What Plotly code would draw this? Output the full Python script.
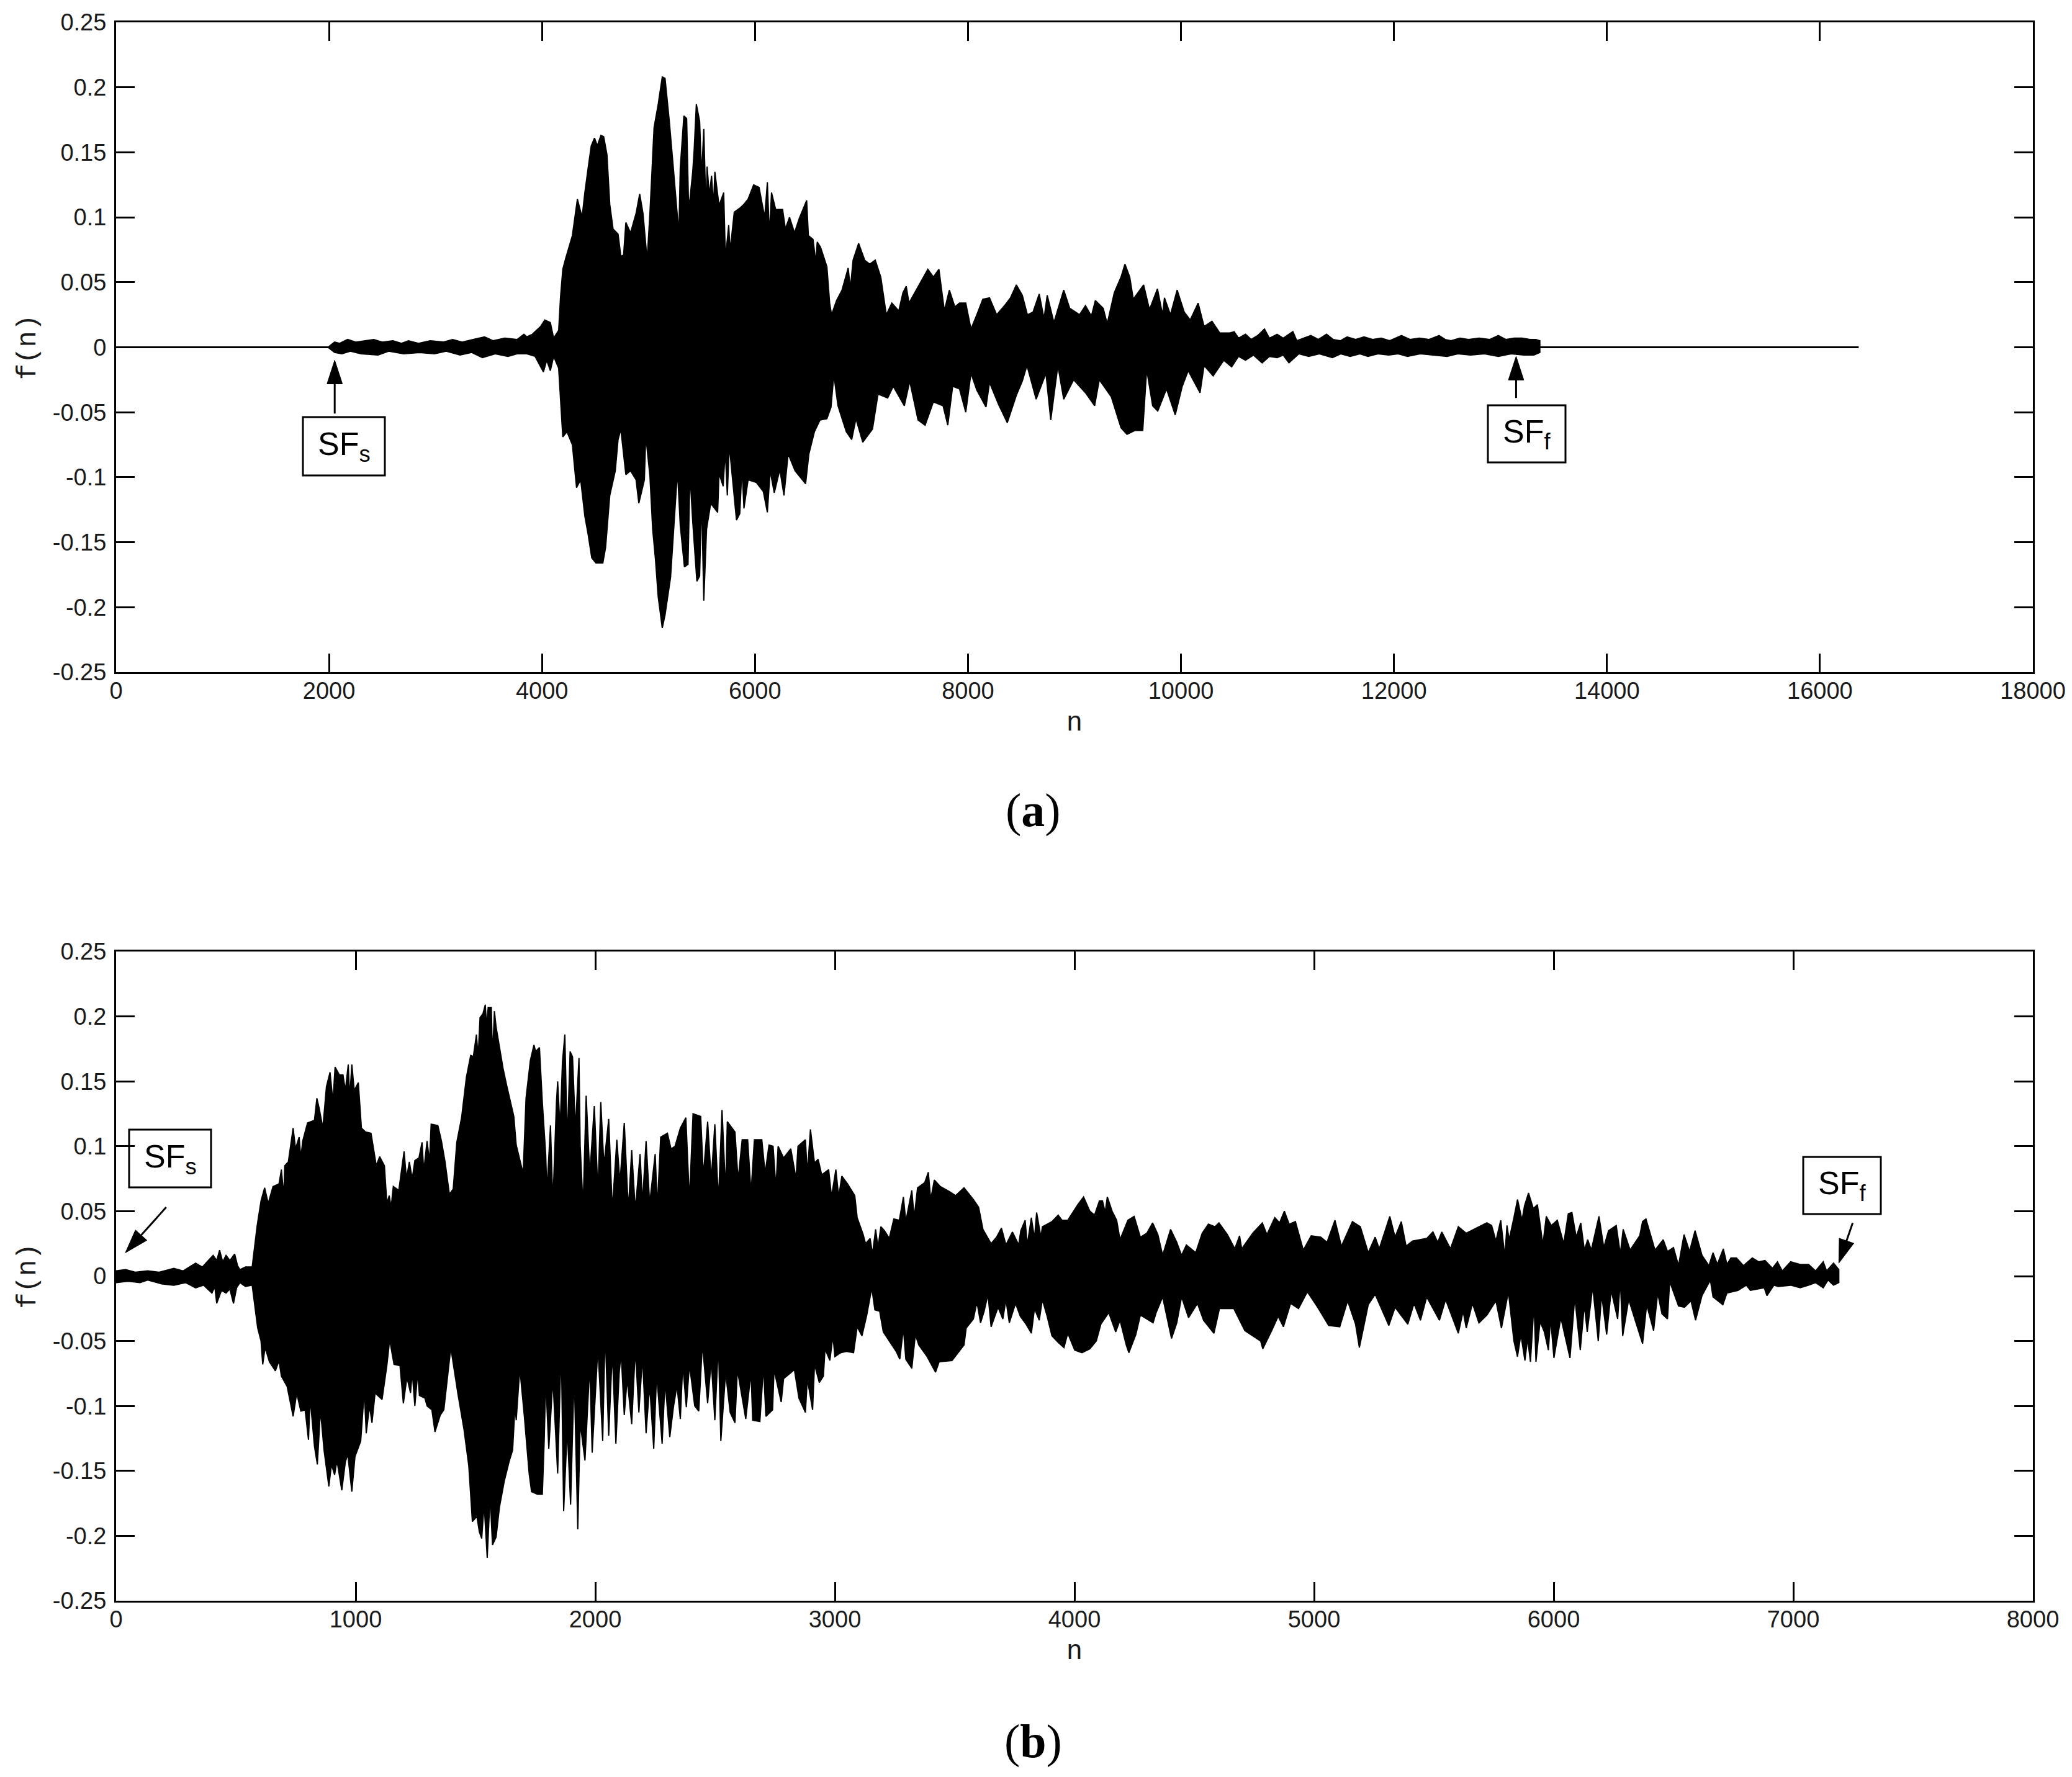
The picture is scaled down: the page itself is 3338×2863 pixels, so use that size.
import plotly.graph_objects as go

W, H = 3338, 2863
PAGE_MARGIN = 8
FIG_W, FIG_H = W - PAGE_MARGIN, H - PAGE_MARGIN
x_ticks_a = [0, 2000, 4000, 6000, 8000, 10000, 12000, 14000, 16000, 18000]
x_ticks_b = [0, 1000, 2000, 3000, 4000, 5000, 6000, 7000, 8000]
y_ticks = [-0.25, -0.2, -0.15, -0.1, -0.05, 0, 0.05, 0.1, 0.15, 0.2, 0.25]
y_tick_text = ["-0.25", "-0.2", "-0.15", "-0.1", "-0.05", "0", "0.05", "0.1", "0.15", "0.2", "0.25"]

# ---- signal (a): silence baseline and envelope
a_base_n = [0, 16364]
a_base_v = [0, 0]
a_up_n_start = [1990,2052,2100,2175,2250,2330,2420,2500,2600,2680,2746,2840,2950,3072,3160,3250,3350,3460,3540,3650,3766,3830]
a_up_v_start = [0,.004,.003,.006,.004,.005,.006,.004,.005,.003,.005,.003,.005,.004,.006,.004,.006,.008,.005,.007,.006,.01]
a_up_n_main = [3857,3909,3987,4026,4078,4109,4156,4174,4195,4221,4285,4304,4332,4376,4402,4433,4462,4493,4519,4553,4579,4610,4636,4667,4714,4740,4766,4787,4831,4883,4917,4948,4987,5013,5052,5091,5129,5155,5194,5233,5272,5285,5298,5332,5358,5376,5389,5415,5428,5449,5480,5498,5519,5540,5550,5571,5592,5610,5623,5662,5706,5722,5753,5766,5805,5857,5896,5935,5987,6038,6091,6116,6135,6155,6194,6259,6285,6324,6371,6415,6485,6501,6545,6571,6584,6615,6675,6701,6719,6766,6817,6875,6895,6921,6973,7030,7077,7129,7181,7233,7285,7350,7389,7420,7446,7519,7623,7675,7727,7778,7825,7877,7920,7979,8028,8083,8139,8202,8269,8343,8399,8454,8510,8558,8610,8669,8714,8744,8807,8899,8955,9048,9103,9159,9196,9270,9307,9374,9437,9474,9519,9552,9649,9704,9779,9827,9845,9901,9964,10031,10087,10161,10217,10291,10365]
a_up_v_main = [.008,.01,.016,.021,.019,.007,.013,.039,.06,.068,.086,.097,.114,.1,.119,.138,.155,.161,.155,.163,.162,.148,.11,.091,.087,.07,.071,.096,.088,.103,.118,.103,.067,.103,.169,.187,.208,.207,.175,.138,.1,.087,.138,.178,.176,.109,.114,.135,.151,.187,.174,.132,.168,.103,.139,.117,.132,.109,.135,.109,.119,.068,.094,.074,.104,.107,.11,.114,.125,.123,.1,.127,.086,.119,.106,.106,.091,.1,.088,.099,.113,.086,.083,.065,.081,.077,.062,.034,.025,.036,.044,.061,.045,.067,.08,.067,.064,.067,.054,.025,.034,.028,.042,.047,.034,.045,.06,.054,.06,.028,.044,.031,.034,.034,.014,.025,.037,.038,.025,.032,.038,.048,.04,.025,.027,.041,.022,.04,.019,.044,.03,.025,.032,.024,.036,.03,.018,.042,.054,.064,.054,.037,.048,.029,.045,.025,.038,.025,.044,.027,.021,.034,.016,.02,.011]
a_up_n_tail = [10458,10500,10540,10606,10660,10720,10784,10830,10903,10960,11051,11088,11150,11220,11290,11367,11430,11496,11560,11640,11719,11800,11880,11960,12071,12150,12240,12330,12424,12480,12535,12620,12700,12800,12900,12980,13050,13130,13203,13280,13333,13370]
a_up_v_tail = [.011,.012,.007,.01,.006,.009,.014,.007,.01,.007,.012,.005,.007,.009,.006,.01,.006,.005,.008,.006,.008,.006,.007,.005,.009,.006,.007,.006,.009,.006,.005,.007,.006,.007,.006,.009,.006,.007,.007,.006,.006,.005]
a_lo_n_start = [1990,2052,2120,2200,2300,2460,2560,2700,2850,2990,3100,3230,3340,3440,3560,3680,3766]
a_lo_v_start = [0,-.004,-.005,-.003,-.005,-.006,-.003,-.005,-.004,-.005,-.003,-.006,-.004,-.008,-.005,-.007,-.005]
a_lo_n_main = [3857,3935,3974,4013,4044,4078,4109,4156,4174,4195,4234,4285,4324,4363,4402,4433,4467,4506,4571,4597,4636,4688,4714,4740,4787,4831,4883,4909,4961,4974,5013,5039,5065,5091,5129,5155,5207,5233,5272,5298,5337,5371,5389,5415,5454,5480,5498,5519,5545,5584,5649,5662,5701,5720,5740,5758,5826,5857,5878,5896,5935,6013,6078,6116,6142,6181,6233,6272,6311,6376,6475,6506,6558,6610,6675,6714,6740,6779,6857,6908,6948,7012,7103,7155,7246,7298,7402,7453,7531,7597,7675,7766,7810,7856,7920,7979,8028,8083,8169,8202,8287,8369,8454,8510,8554,8640,8732,8777,8844,8899,8992,9103,9189,9233,9345,9437,9493,9567,9641,9678,9734,9782,9864,9946,10012,10068,10179,10217,10302,10402]
a_lo_v_main = [-.005,-.007,-.013,-.019,-.01,-.018,-.007,-.016,-.042,-.069,-.065,-.075,-.108,-.102,-.13,-.144,-.162,-.166,-.166,-.154,-.114,-.095,-.071,-.063,-.098,-.095,-.102,-.12,-.102,-.068,-.099,-.14,-.163,-.192,-.216,-.206,-.177,-.146,-.095,-.137,-.169,-.167,-.097,-.134,-.18,-.176,-.115,-.195,-.14,-.12,-.127,-.097,-.107,-.079,-.114,-.075,-.133,-.128,-.092,-.124,-.102,-.104,-.111,-.127,-.095,-.112,-.094,-.114,-.082,-.095,-.105,-.082,-.065,-.056,-.055,-.046,-.021,-.045,-.065,-.071,-.055,-.073,-.063,-.036,-.039,-.03,-.045,-.026,-.056,-.06,-.042,-.045,-.06,-.03,-.032,-.05,-.02,-.033,-.046,-.027,-.044,-.058,-.037,-.026,-.014,-.04,-.02,-.056,-.014,-.04,-.025,-.035,-.045,-.025,-.038,-.062,-.067,-.064,-.064,-.017,-.045,-.049,-.032,-.052,-.03,-.018,-.035,-.014,-.022,-.01]
a_lo_n_tail = [10476,10540,10606,10680,10762,10830,10903,10960,11014,11107,11200,11300,11422,11500,11589,11680,11756,11850,11950,12040,12127,12250,12350,12498,12600,12720,12850,12980,13100,13220,13314,13370]
a_lo_v_tail = [-.015,-.007,-.01,-.006,-.012,-.007,-.008,-.006,-.012,-.005,-.007,-.005,-.008,-.005,-.007,-.005,-.007,-.005,-.006,-.005,-.007,-.005,-.006,-.007,-.005,-.006,-.005,-.007,-.005,-.006,-.006,-.004]

# ---- signal (b): envelope
b_up_n_start = [0,40,80,132,180,241,280,332,360,405,420,432,445,459,475,495,507,517,540,568]
b_up_v_start = [.004,.005,.003,.004,.003,.006,.004,.01,.007,.016,.012,.02,.011,.016,.012,.017,.008,.005,.007,.007]
b_up_n_main = [589,605,620,635,655,680,690,700,704,719,739,749,764,771,779,799,828,838,848,863,878,893,905,914,932,947,957,969,975,984,994,1011,1024,1041,1064,1086,1100,1120,1130,1140,1148,1157,1180,1202,1212,1224,1236,1247,1264,1277,1284,1298,1308,1315,1343,1358,1373,1391,1407,1422,1442,1462,1480,1491,1504,1511,1519,1531,1541,1546,1553,1566,1571,1579,1586,1615,1630,1660,1670,1699,1711,1729,1744,1751,1767,1779,1793,1798,1813,1823,1838,1843,1853,1863,1873,1883,1895,1905,1917,1932,1937,1949,1962,1977,1996,2011,2023,2036,2056,2071,2090,2103,2121,2138,2152,2167,2187,2197,2212,2227,2250,2259,2273,2301,2316,2333,2355,2378,2393,2408,2440,2451,2469,2484,2499,2514,2529,2544,2551,2583,2596,2613,2636,2650,2664,2695,2709,2725,2742,2754,2763,2786,2816,2838,2846,2877,2885,2898,2915,2930,2945,2974,2986,3004,3016,3029,3053,3083,3093,3118,3128,3147,3157,3170,3180,3192,3207,3227,3246,3269,3286,3296,3321,3331,3345,3375,3390,3400,3415,3440,3479,3504,3539,3578,3600,3618,3652,3675,3695,3714,3741,3767,3776,3794,3803,3820,3833,3842,3860,3866,3886,3906,3932,3948,3972,3992,4014,4038,4064,4084,4104,4117,4128,4137,4157,4176,4190,4223,4249,4275,4302,4326,4348,4368,4401,4427,4447,4467,4506,4533,4559,4586,4603,4638,4669,4689,4698,4744,4784,4803,4836,4856,4876,4896,4922,4955,4988,5028,5054,5087,5114,5160,5193,5226,5255,5272,5316,5338,5364,5384,5411,5470,5496,5516,5533,5569,5602,5635,5668,5721,5741,5759,5779,5796,5805,5814,5834,5849,5868,5878,5895,5915,5932,5955,5969,5990,6015,6042,6061,6076,6094,6113,6128,6142,6157,6189,6209,6229,6261,6278,6290,6319,6359,6371,6385,6400,6423,6457,6475,6500,6521,6544,6567,6590,6619,6648,6665,6683,6708,6723,6740,6763,6792,6829,6856,6882,6913,6934,6954,6989,7029,7064,7093,7125,7139,7168,7190]
b_up_v_main = [.039,.058,.068,.056,.069,.071,.082,.061,.085,.088,.114,.098,.107,.091,.104,.118,.12,.137,.129,.114,.146,.157,.134,.161,.155,.155,.143,.163,.137,.163,.143,.149,.114,.111,.11,.085,.092,.085,.056,.062,.053,.069,.066,.096,.075,.088,.075,.089,.091,.103,.081,.104,.088,.117,.116,.104,.088,.063,.067,.103,.122,.153,.17,.169,.186,.169,.199,.202,.209,.192,.207,.207,.168,.204,.192,.16,.147,.123,.101,.079,.137,.166,.178,.173,.176,.134,.094,.065,.116,.056,.134,.15,.114,.165,.186,.103,.173,.169,.113,.168,.101,.053,.139,.078,.131,.065,.134,.085,.121,.051,.105,.072,.118,.051,.097,.051,.094,.056,.104,.056,.094,.053,.107,.11,.098,.1,.114,.122,.058,.125,.123,.077,.119,.074,.117,.058,.128,.065,.119,.111,.074,.105,.105,.064,.105,.105,.079,.101,.1,.068,.1,.091,.098,.075,.1,.105,.079,.113,.087,.09,.078,.082,.061,.082,.061,.077,.071,.062,.045,.032,.025,.029,.017,.036,.022,.038,.035,.029,.044,.043,.061,.042,.066,.045,.068,.072,.08,.059,.074,.069,.065,.062,.068,.059,.053,.036,.025,.03,.037,.024,.034,.024,.035,.043,.024,.045,.029,.049,.03,.038,.04,.042,.047,.043,.043,.049,.055,.061,.05,.047,.058,.058,.049,.061,.05,.043,.028,.043,.046,.03,.033,.041,.032,.016,.036,.026,.016,.024,.018,.033,.04,.038,.041,.032,.021,.031,.021,.033,.041,.032,.045,.041,.05,.04,.042,.02,.031,.03,.026,.043,.023,.042,.038,.018,.03,.021,.046,.03,.042,.023,.027,.029,.034,.026,.034,.021,.038,.033,.036,.041,.039,.027,.043,.015,.039,.028,.045,.059,.043,.054,.064,.052,.055,.024,.046,.039,.043,.025,.048,.049,.03,.041,.02,.028,.02,.046,.022,.035,.039,.017,.036,.02,.031,.042,.044,.035,.02,.028,.019,.022,.008,.032,.019,.035,.016,.008,.018,.009,.021,.009,.014,.014,.008,.014,.011,.012,.006,.011,.004,.011,.009,.009,.004,.011,.004,.01,.005]
b_lo_n_start = [0,50,100,132,190,241,290,332,365,400,412,420,440,459,475,490,503,517,540,568]
b_lo_v_start = [-.005,-.004,-.005,-.003,-.006,-.007,-.005,-.009,-.007,-.013,-.008,-.021,-.011,-.013,-.01,-.021,-.009,-.005,-.008,-.007]
b_lo_n_main = [591,605,612,622,640,665,680,690,714,727,739,754,771,789,803,810,828,840,853,868,888,899,912,922,942,957,967,984,997,1021,1036,1044,1058,1068,1081,1110,1120,1130,1142,1160,1185,1199,1214,1229,1236,1247,1259,1266,1289,1298,1318,1331,1353,1368,1397,1427,1452,1472,1477,1487,1506,1516,1526,1536,1549,1561,1571,1586,1600,1620,1640,1655,1665,1670,1685,1704,1724,1734,1759,1779,1787,1793,1806,1823,1843,1858,1868,1883,1897,1912,1927,1937,1957,1977,1987,2011,2031,2041,2056,2071,2086,2100,2108,2121,2133,2152,2167,2182,2197,2212,2227,2244,2256,2279,2291,2311,2326,2341,2355,2365,2380,2393,2415,2432,2447,2469,2484,2499,2514,2524,2544,2563,2583,2593,2628,2650,2657,2687,2702,2712,2740,2746,2776,2786,2831,2850,2877,2885,2907,2915,2935,2952,2959,2979,2992,3000,3024,3048,3078,3093,3113,3133,3154,3167,3187,3202,3256,3271,3286,3296,3321,3336,3350,3385,3420,3435,3489,3539,3548,3578,3593,3608,3623,3639,3652,3681,3701,3714,3728,3754,3774,3798,3820,3833,3853,3866,3886,3906,3932,3956,3972,4001,4031,4064,4091,4110,4143,4172,4190,4216,4227,4256,4275,4328,4341,4368,4405,4427,4447,4476,4513,4539,4582,4605,4665,4711,4777,4786,4823,4850,4872,4902,4935,4972,5015,5061,5107,5140,5173,5189,5226,5255,5312,5338,5391,5417,5444,5470,5523,5549,5602,5622,5635,5661,5688,5721,5759,5782,5811,5834,5849,5863,5880,5891,5903,5918,5926,5943,5961,5978,5987,6001,6013,6030,6068,6088,6111,6128,6140,6163,6186,6200,6221,6240,6267,6278,6288,6313,6342,6371,6388,6417,6434,6452,6475,6484,6521,6546,6573,6592,6619,6654,6665,6706,6723,6769,6804,6821,6879,6890,6919,6937,6989,7029,7064,7093,7125,7145,7168,7190]
b_lo_v_main = [-.04,-.05,-.068,-.055,-.066,-.073,-.065,-.077,-.085,-.097,-.108,-.09,-.104,-.103,-.126,-.094,-.131,-.145,-.103,-.134,-.162,-.145,-.153,-.142,-.165,-.143,-.137,-.166,-.139,-.127,-.088,-.121,-.1,-.113,-.09,-.095,-.082,-.069,-.049,-.068,-.069,-.098,-.078,-.09,-.074,-.1,-.074,-.092,-.094,-.1,-.103,-.12,-.107,-.103,-.055,-.091,-.118,-.146,-.16,-.189,-.185,-.197,-.202,-.175,-.217,-.169,-.207,-.201,-.178,-.158,-.143,-.134,-.1,-.111,-.071,-.108,-.152,-.166,-.168,-.168,-.126,-.079,-.133,-.079,-.152,-.053,-.181,-.117,-.176,-.075,-.195,-.113,-.142,-.068,-.136,-.055,-.127,-.042,-.123,-.058,-.129,-.074,-.059,-.107,-.079,-.114,-.056,-.105,-.062,-.121,-.084,-.133,-.075,-.129,-.081,-.124,-.101,-.084,-.11,-.068,-.101,-.068,-.1,-.104,-.052,-.098,-.065,-.111,-.052,-.127,-.074,-.105,-.113,-.072,-.11,-.074,-.111,-.112,-.069,-.108,-.103,-.072,-.097,-.079,-.072,-.094,-.105,-.079,-.103,-.068,-.082,-.077,-.056,-.065,-.046,-.062,-.059,-.058,-.059,-.039,-.046,-.03,-.009,-.026,-.027,-.043,-.058,-.064,-.04,-.064,-.071,-.045,-.053,-.062,-.074,-.066,-.065,-.053,-.04,-.033,-.02,-.036,-.027,-.014,-.039,-.024,-.033,-.018,-.036,-.021,-.031,-.037,-.044,-.025,-.034,-.018,-.031,-.046,-.051,-.055,-.044,-.057,-.059,-.056,-.05,-.037,-.028,-.043,-.034,-.053,-.059,-.045,-.03,-.036,-.028,-.016,-.048,-.036,-.016,-.032,-.021,-.034,-.044,-.025,-.025,-.042,-.05,-.056,-.042,-.031,-.039,-.021,-.025,-.012,-.024,-.038,-.039,-.019,-.037,-.055,-.022,-.014,-.038,-.024,-.037,-.021,-.034,-.016,-.034,-.018,-.044,-.027,-.04,-.021,-.036,-.03,-.019,-.04,-.012,-.05,-.062,-.045,-.065,-.048,-.066,-.021,-.066,-.035,-.043,-.057,-.032,-.063,-.05,-.032,-.063,-.016,-.057,-.022,-.043,-.008,-.05,-.014,-.045,-.011,-.033,-.003,-.046,-.018,-.035,-.052,-.022,-.042,-.013,-.029,-.033,-.004,-.023,-.024,-.019,-.034,-.015,-.003,-.016,-.022,-.013,-.011,-.007,-.011,-.009,-.015,-.007,-.008,-.007,-.009,-.007,-.005,-.009,-.003,-.007,-.005]

# ---- callout arrows, tail then tip, in data units
a_arrow_s_n, a_arrow_s_v = [2053, 2053], [-0.051, -0.010]
a_arrow_f_n, a_arrow_f_v = [13147, 13147], [-0.039, -0.007]
b_arrow_s_n, b_arrow_s_v = [209, 39], [0.053, 0.018]
b_arrow_f_n, b_arrow_f_v = [7248, 7190], [0.041, 0.010]

# ---- layout geometry in image pixels
FX0, FX1 = 187, 3275
AY0, AY1 = 36, 1083
BY0, BY1 = 1533, 2579

def px(x):
    return (x - PAGE_MARGIN) / FIG_W
def py(y):
    return 1 - (y - PAGE_MARGIN) / FIG_H

def envelope(up_n, up_v, lo_n, lo_v):
    assert len(up_n) == len(up_v) and len(lo_n) == len(lo_v), (len(up_n), len(up_v), len(lo_n), len(lo_v))
    return list(up_n) + list(lo_n)[::-1], list(up_v) + list(lo_v)[::-1]

fig = go.Figure()
ax_x, ax_y = envelope(a_up_n_start + a_up_n_main + a_up_n_tail, a_up_v_start + a_up_v_main + a_up_v_tail,
                      a_lo_n_start + a_lo_n_main + a_lo_n_tail, a_lo_v_start + a_lo_v_main + a_lo_v_tail)
bx_x, bx_y = envelope(b_up_n_start + b_up_n_main, b_up_v_start + b_up_v_main,
                      b_lo_n_start + b_lo_n_main, b_lo_v_start + b_lo_v_main)
LINE = dict(color="black", width=2)
fig.add_trace(go.Scatter(x=a_base_n, y=a_base_v, mode="lines", line=dict(color="black", width=3), xaxis="x", yaxis="y", showlegend=False))
fig.add_trace(go.Scatter(x=ax_x, y=ax_y, mode="lines", fill="toself", fillcolor="black", line=LINE, xaxis="x", yaxis="y", showlegend=False))
fig.add_trace(go.Scatter(x=bx_x, y=bx_y, mode="lines", fill="toself", fillcolor="black", line=LINE, xaxis="x2", yaxis="y2", showlegend=False))

for xs, ys, xa, ya in [(a_arrow_s_n, a_arrow_s_v, "x", "y"), (a_arrow_f_n, a_arrow_f_v, "x", "y"),
                       (b_arrow_s_n, b_arrow_s_v, "x2", "y2"), (b_arrow_f_n, b_arrow_f_v, "x2", "y2")]:
    fig.add_trace(go.Scatter(x=xs, y=ys, mode="lines+markers", xaxis=xa, yaxis=ya, showlegend=False,
                             line=dict(color="black", width=3),
                             marker=dict(symbol="arrow", size=[0, 40], angleref="previous", color="#000000", opacity=1,
                                         line=dict(width=1, color="#000000"))))

TICKFONT = dict(family="Liberation Sans", size=38, color="#1a1a1a")
TITLEFONT = dict(family="Liberation Mono", size=44, color="#1a1a1a")

def xaxis(rng, ticks, anchor):
    return dict(domain=[px(FX0), px(FX1)], range=rng, tickvals=ticks, ticktext=[str(t) for t in ticks],
                anchor=anchor, showgrid=False, zeroline=False, showline=True, mirror="ticks", linecolor="black",
                linewidth=3, ticks="inside", ticklen=30, tickwidth=3, tickcolor="black", tickfont=TICKFONT,
                ticklabelstandoff=-6, title=dict(text="n", font=TITLEFONT, standoff=14), automargin=False)

def yaxis(anchor, y0, y1):
    return dict(domain=[py(y1), py(y0)], range=[-0.25, 0.25], tickvals=y_ticks, ticktext=y_tick_text,
                anchor=anchor, showgrid=False, zeroline=False, showline=True, mirror="ticks", linecolor="black",
                linewidth=3, ticks="inside", ticklen=30, tickwidth=3, tickcolor="black", tickfont=TICKFONT,
                ticklabelstandoff=5, title=dict(text="f(n)", font=TITLEFONT, standoff=14), automargin=False)

# ---- labelled boxes: left, right, top, bottom, label
boxes = [(488, 620, 672, 766, "SF<sub>s</sub>"), (2397, 2522, 653, 745, "SF<sub>f</sub>"),
         (208, 340, 1820, 1913, "SF<sub>s</sub>"), (2905, 3030, 1864, 1956, "SF<sub>f</sub>")]
shapes, annotations = [], []
for l, r, t, b, label in boxes:
    shapes.append(dict(type="rect", xref="paper", yref="paper", x0=px(l), x1=px(r), y0=py(t), y1=py(b),
                       line=dict(color="black", width=3), fillcolor="rgba(0,0,0,0)"))
    annotations.append(dict(xref="paper", yref="paper", x=px((l + r) / 2), y=py((t + b) / 2), text=label, showarrow=False,
                            xanchor="center", yanchor="middle", font=dict(family="Liberation Sans", size=52, color="black")))

# ---- captions
for cx, cy, cap in [(1664, 1305, "(<b>a</b>)"), (1664, 2805, "(<b>b</b>)")]:
    annotations.append(dict(xref="paper", yref="paper", x=px(cx), y=py(cy), text=cap, showarrow=False, xanchor="center", yanchor="middle",
                            font=dict(family="Liberation Serif", size=76, color="black")))

fig.update_layout(width=FIG_W, height=FIG_H, margin=dict(l=0, r=0, t=0, b=0), paper_bgcolor="white", plot_bgcolor="white",
                  showlegend=False, shapes=shapes, annotations=annotations,
                  xaxis=xaxis([0, 18000], x_ticks_a, "y"), yaxis=yaxis("x", AY0, AY1),
                  xaxis2=xaxis([0, 8000], x_ticks_b, "y2"), yaxis2=yaxis("x2", BY0, BY1))
fig.write_html("out.html")
